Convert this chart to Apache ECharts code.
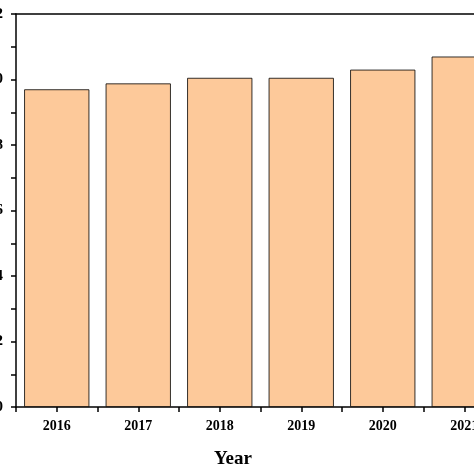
<!DOCTYPE html>
<html>
<head>
<meta charset="utf-8">
<script src="https://cdn.jsdelivr.net/npm/echarts@6/dist/echarts.min.js"></script>
<style>html,body{margin:0;padding:0;background:#fff}#c{width:474px;height:474px}</style>
</head>
<body>
<div id="c"></div>
<script>
const years = ['2016', '2017', '2018', '2019', '2020', '2021'];
const values = [9.7, 9.88, 10.05, 10.05, 10.3, 10.7];

const font = 'Liberation Serif';
const line = { show: true, lineStyle: { color: '#000', width: 1.5 } };

let chart = echarts.init(document.getElementById('c'));
chart.setOption({
  animation: false,
  grid: { left: 16, top: 14, height: 393, width: 489, containLabel: false, outerBoundsMode: 'none' },
  xAxis: [
    {
      type: 'category', data: years, position: 'bottom',
      axisLine: line,
      axisTick: { show: true, length: 5, lineStyle: { color: '#000', width: 1.5 } },
      axisLabel: { fontFamily: font, fontWeight: 'bold', fontSize: 14, color: '#000', margin: 12 },
      name: 'Year', nameLocation: 'middle', nameGap: 43,
      nameTextStyle: { fontFamily: font, fontWeight: 'bold', fontSize: 19, color: '#000', padding: [0, 55, 0, 0] },
    },
    {
      type: 'category', data: years, position: 'bottom', gridIndex: 0,
      axisLine: { show: false },
      axisTick: { show: true, alignWithLabel: true, length: 5, lineStyle: { color: '#000', width: 1.5 } },
      axisLabel: { show: false },
    },
    {
      type: 'category', data: years, position: 'top',
      axisLine: line, axisTick: { show: false }, axisLabel: { show: false },
    },
  ],
  yAxis: {
    type: 'value', min: 0, max: 12, interval: 2,
    axisLine: line,
    axisTick: { show: true, length: 5, lineStyle: { color: '#000', width: 1.5 } },
    minorTick: { show: true, splitNumber: 2, length: 5, lineStyle: { color: '#000', width: 1.5 } },
    splitLine: { show: false },
    axisLabel: { fontFamily: font, fontWeight: 'bold', fontSize: 15, color: '#000', margin: 13 },
  },
  series: [
    {
      type: 'bar', data: values, barWidth: '80%', xAxisIndex: 0,
      itemStyle: { color: '#FDC99A', borderColor: '#000', borderWidth: 0.8 },
    },
  ],
});
</script>
</body>
</html>
